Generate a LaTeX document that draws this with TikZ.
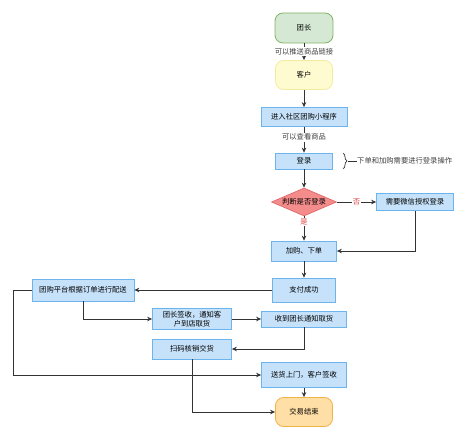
\documentclass[tikz,border=0pt]{standalone}
\usepackage{fontspec}
\newfontfamily\cjk{Noto Sans CJK SC}
\usetikzlibrary{arrows.meta,shapes.geometric,decorations.pathreplacing}
\definecolor{bluefill}{HTML}{C6E2FA}
\definecolor{blueline}{HTML}{6CB4EE}
\definecolor{greenfill}{HTML}{D5E8D4}
\definecolor{greenline}{HTML}{82B366}
\definecolor{yellowfill}{HTML}{FFFBD0}
\definecolor{yellowline}{HTML}{F5EBA0}
\definecolor{redfill}{HTML}{F48C8C}
\definecolor{redline}{HTML}{E06666}
\definecolor{redtext}{HTML}{E04848}
\definecolor{orangefill}{HTML}{FFDFA6}
\definecolor{orangeline}{HTML}{F0B24A}
\definecolor{linegray}{HTML}{333333}
\begin{document}
\begin{tikzpicture}[
  x=1pt,
  y=-1pt,
  font=\cjk\fontsize{7.3}{8.5}\selectfont,
  proc/.style={draw=blueline, fill=bluefill, inner sep=0pt, align=center, line width=0.7pt},
  term/.style={rounded corners=8pt, inner sep=0pt, line width=0.8pt},
  flow/.style={draw=linegray, line width=0.9pt, -{Stealth[length=5pt,width=4.5pt]}},
  edgetext/.style={fill=white, inner sep=1pt, text=black!75}
]
\useasboundingbox (0,0) rectangle (474,441);

% top of the chain
\node[term, draw=greenline, fill=greenfill, minimum width=58, minimum height=30] (leader) at (304,28) {团长};
\node[term, draw=yellowline, fill=yellowfill, minimum width=57, minimum height=29] (customer) at (304,75) {客户};
\node[proc, minimum width=86, minimum height=19] (miniapp) at (304,117) {进入社区团购小程序};
\node[proc, minimum width=57, minimum height=16] (login) at (304,161) {登录};
\node[shape=diamond, aspect=2.3, draw=redline, fill=redfill, inner sep=0pt, line width=0.7pt,
  minimum width=65, minimum height=28] (judge) at (304,202) {判断是否登录};
\node[proc, minimum width=77, minimum height=17] (wechat) at (415,202) {需要微信授权登录};
\node[proc, minimum width=65, minimum height=20] (addcart) at (304,251) {加购、下单};
\node[proc, minimum width=63, minimum height=24] (paid) at (304,290) {支付成功};

% note on login
\draw[linegray, line width=0.7pt, decorate, decoration={brace, amplitude=4pt}] (343,153) -- (343,169);
\node[anchor=west, inner sep=0pt, text=black!75] (note) at (357,161) {下单和加购需要进行登录操作};
\draw[linegray, line width=0.7pt] (348,161) -- (note.west);

% delivery branch
\node[proc, minimum width=102, minimum height=22] (deliver) at (83,290) {团购平台根据订单进行配送};
\node[proc, minimum width=79, minimum height=21] (sign) at (192,319) {团长签收，通知客\\户到店取货};
\node[proc, minimum width=85, minimum height=16] (notify) at (304,319) {收到团长通知取货};
\node[proc, minimum width=79, minimum height=20] (scan) at (192,349) {扫码核销交货};
\node[proc, minimum width=85, minimum height=25] (home) at (304,375) {送货上门，客户签收};
\node[term, draw=orangeline, fill=orangefill, minimum width=57, minimum height=29] (done) at (304,412) {交易结束};

% connectors
\draw[flow] (leader) -- node[edgetext] {可以推送商品链接} (customer);
\draw[flow] (customer) -- (miniapp);
\draw[flow] (miniapp) -- node[edgetext, pos=0.4] {可以查看商品} (login);
\draw[flow] (login) -- (judge);
\draw[flow] (judge) -- node[edgetext, text=redtext, pos=0.5] {否} (wechat);
\draw[flow] (judge) -- node[edgetext, text=redtext, pos=0.24] {是} (addcart);
\draw[flow] (wechat.south) |- (addcart.east);
\draw[flow] (addcart) -- (paid);
\draw[flow] (paid.west) -- (deliver.east);
\draw[flow] (deliver.south) |- (sign.west);
\draw[flow] (sign) -- (notify);
\draw[flow] (notify.south) |- (scan.east);
\draw[flow] (deliver.west) -- ++(-18,0) |- (home.west);
\draw[flow] (scan.south) |- (done.west);
\draw[flow] (home) -- (done);
\end{tikzpicture}
\end{document}
